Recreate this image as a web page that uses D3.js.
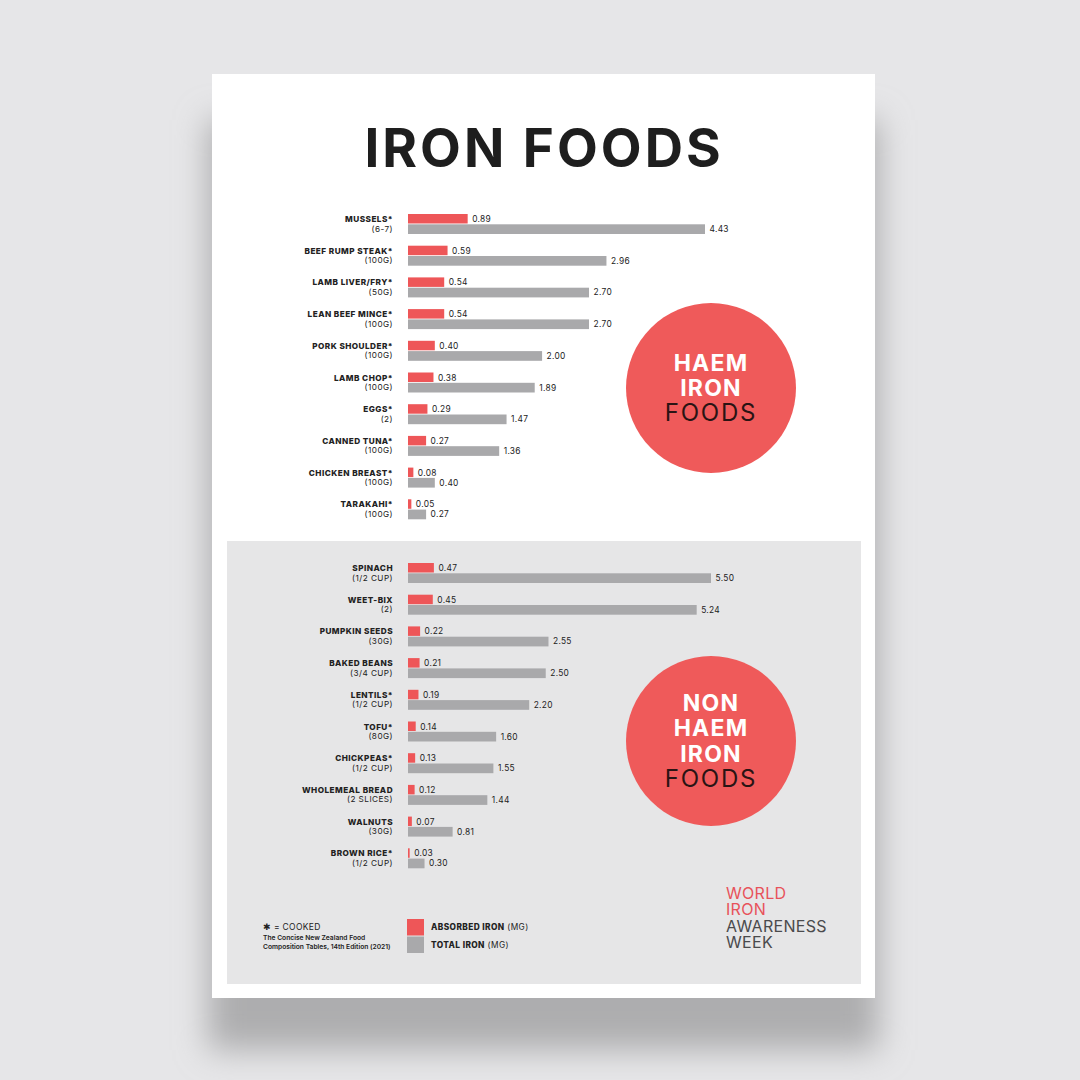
<!DOCTYPE html>
<html>
<head>
<meta charset="utf-8">
<script src="https://cdn.jsdelivr.net/npm/d3@7"></script>
<style>
    body { margin: 0; background: #e6e6e8; }
    text { font-family: Inter, "Open Sans", sans-serif; }
</style>
</head>
<body>
<div id="chart"></div>
<script>
// haem iron foods (top half)
var haemFoods = ["MUSSELS*", "BEEF RUMP STEAK*", "LAMB LIVER/FRY*", "LEAN BEEF MINCE*", "PORK SHOULDER*",
    "LAMB CHOP*", "EGGS*", "CANNED TUNA*", "CHICKEN BREAST*", "TARAKAHI*"];
var haemPortions = ["(6-7)", "(100G)", "(50G)", "(100G)", "(100G)", "(100G)", "(2)", "(100G)", "(100G)", "(100G)"];
var haemAbsorbed = [0.89, 0.59, 0.54, 0.54, 0.40, 0.38, 0.29, 0.27, 0.08, 0.05];
var haemTotal = [4.43, 2.96, 2.70, 2.70, 2.00, 1.89, 1.47, 1.36, 0.40, 0.27];

// non haem iron foods (bottom half)
var nonHaemFoods = ["SPINACH", "WEET-BIX", "PUMPKIN SEEDS", "BAKED BEANS", "LENTILS*", "TOFU*",
    "CHICKPEAS*", "WHOLEMEAL BREAD", "WALNUTS", "BROWN RICE*"];
var nonHaemPortions = ["(1/2 CUP)", "(2)", "(30G)", "(3/4 CUP)", "(1/2 CUP)", "(80G)", "(1/2 CUP)", "(2 SLICES)", "(30G)", "(1/2 CUP)"];
var nonHaemAbsorbed = [0.47, 0.45, 0.22, 0.21, 0.19, 0.14, 0.13, 0.12, 0.07, 0.03];
var nonHaemTotal = [5.50, 5.24, 2.55, 2.50, 2.20, 1.60, 1.55, 1.44, 0.81, 0.30];

var legendLabels = ["ABSORBED IRON", "TOTAL IRON"];
var legendUnit = " (MG)";

var RED = "#ee5658";
var GREY = "#a9a9ab";

var svg = d3.select("#chart").append("svg")
    .attr("width", 1080)
    .attr("height", 1080);

// page shadow
var defs = svg.append("defs");
defs.append("filter")
    .attr("id", "shadow")
    .attr("x", "-20%").attr("y", "-20%")
    .attr("width", "140%").attr("height", "140%")
    .append("feGaussianBlur")
    .attr("stdDeviation", 16);

svg.append("rect")
    .attr("width", 1080).attr("height", 1080)
    .attr("fill", "#e6e6e8");

svg.append("rect")
    .attr("x", 208).attr("y", 120)
    .attr("width", 671).attr("height", 930)
    .attr("fill", "#adadaf")
    .attr("filter", "url(#shadow)");

// page
svg.append("rect")
    .attr("x", 212).attr("y", 74)
    .attr("width", 663).attr("height", 924)
    .attr("fill", "#ffffff");

// grey panel for non haem
svg.append("rect")
    .attr("x", 227).attr("y", 541)
    .attr("width", 634).attr("height", 443)
    .attr("fill", "#e6e6e7");

svg.append("text")
    .attr("x", 544).attr("y", 167)
    .attr("text-anchor", "middle")
    .attr("font-size", 53)
    .attr("font-weight", 700)
    .attr("letter-spacing", 3)
    .attr("fill", "#1e1e1e")
    .text("IRON FOODS");

function drawSection(foods, portions, absorbed, total, top, barSpan) {
    var step = 31.7;
    var bandH = 20;
    var pad = 1 - bandH / step;
    var left = 408;

    var x = d3.scaleLinear()
        .domain([0, d3.max(total)])
        .range([0, barSpan]);

    var y = d3.scaleBand()
        .domain(foods)
        .range([top, top + foods.length * step - pad * step])
        .paddingInner(pad)
        .paddingOuter(0);

    var g = svg.append("g");

    var rows = g.selectAll(".row")
        .data(foods)
        .enter()
        .append("g")
        .attr("class", "row")
        .attr("transform", function (d) { return "translate(0," + y(d) + ")"; });

    rows.append("text")
        .attr("x", 393).attr("y", 8)
        .attr("text-anchor", "end")
        .attr("font-size", 8.2)
        .attr("font-weight", 800)
        .attr("letter-spacing", 0.45)
        .attr("fill", "#222")
        .text(function (d) { return d; });

    rows.append("text")
        .attr("x", 393).attr("y", 17.5)
        .attr("text-anchor", "end")
        .attr("font-size", 8.2)
        .attr("letter-spacing", 0.45)
        .attr("fill", "#222")
        .text(function (d, i) { return portions[i]; });

    rows.append("rect")
        .attr("x", left).attr("y", 0)
        .attr("width", function (d, i) { return x(absorbed[i]); })
        .attr("height", 9.5)
        .attr("fill", RED);

    rows.append("rect")
        .attr("x", left).attr("y", 10.3)
        .attr("width", function (d, i) { return x(total[i]); })
        .attr("height", 9.7)
        .attr("fill", GREY);

    rows.append("text")
        .attr("x", function (d, i) { return left + x(absorbed[i]) + 4.5; })
        .attr("y", 8)
        .attr("font-size", 8.4)
        .attr("letter-spacing", 0.3)
        .attr("fill", "#222")
        .text(function (d, i) { return absorbed[i].toFixed(2); });

    rows.append("text")
        .attr("x", function (d, i) { return left + x(total[i]) + 4.5; })
        .attr("y", 18)
        .attr("font-size", 8.4)
        .attr("letter-spacing", 0.3)
        .attr("fill", "#222")
        .text(function (d, i) { return total[i].toFixed(2); });
}

drawSection(haemFoods, haemPortions, haemAbsorbed, haemTotal, 214, 297);
drawSection(nonHaemFoods, nonHaemPortions, nonHaemAbsorbed, nonHaemTotal, 563, 303);

function badge(cx, cy, lines) {
    svg.append("circle")
        .attr("cx", cx).attr("cy", cy).attr("r", 85)
        .attr("fill", "#ef5a5a");
    var n = lines.length;
    lines.forEach(function (l, i) {
        svg.append("text")
            .attr("x", cx)
            .attr("y", cy + (i - (n - 1) / 2) * 25.3 + 8)
            .attr("text-anchor", "middle")
            .attr("font-size", l.bold ? 23 : 24)
            .attr("font-weight", l.bold ? 700 : 400)
            .attr("letter-spacing", l.bold ? 1.2 : 1.8)
            .attr("fill", l.bold ? "#ffffff" : "#2a1414")
            .text(l.t);
    });
}

badge(711, 388, [{ t: "HAEM", bold: true }, { t: "IRON", bold: true }, { t: "FOODS", bold: false }]);
badge(711, 741, [{ t: "NON", bold: true }, { t: "HAEM", bold: true }, { t: "IRON", bold: true }, { t: "FOODS", bold: false }]);

// notes
svg.append("text")
    .attr("x", 263).attr("y", 929.5)
    .attr("font-size", 8.5)
    .attr("letter-spacing", 0.3)
    .attr("fill", "#222")
    .text("\u2731 = COOKED");

svg.append("text")
    .attr("x", 263).attr("y", 939.5)
    .attr("font-size", 6.7)
    .attr("font-weight", 600)
    .attr("fill", "#222")
    .text("The Concise New Zealand Food");

svg.append("text")
    .attr("x", 263).attr("y", 949)
    .attr("font-size", 6.7)
    .attr("font-weight", 600)
    .attr("fill", "#222")
    .text("Composition Tables, 14th Edition (2021)");

// legend
var legend = svg.selectAll(".legend")
    .data(legendLabels)
    .enter()
    .append("g")
    .attr("class", "legend")
    .attr("transform", function (d, i) { return "translate(407," + (919 + i * 17.5) + ")"; });

legend.append("rect")
    .attr("width", 17).attr("height", 16.5)
    .attr("fill", function (d, i) { return i === 0 ? RED : GREY; });

var lt = legend.append("text")
    .attr("x", 24).attr("y", 11)
    .attr("font-size", 8.3)
    .attr("letter-spacing", 0.4)
    .attr("fill", "#222");
lt.append("tspan").attr("font-weight", 800).text(function (d) { return d; });
lt.append("tspan").text(legendUnit);

// logo, one text block with a line per word
var logo = [["WORLD", "#e8525a"], ["IRON", "#e8525a"], ["AWARENESS", "#4a4a4c"], ["WEEK", "#4a4a4c"]];
var logoText = svg.append("text")
    .attr("x", 726).attr("y", 898.5)
    .attr("font-size", 16)
    .attr("letter-spacing", 0.3);
logoText.selectAll("tspan")
    .data(logo)
    .enter()
    .append("tspan")
    .attr("x", 726)
    .attr("dy", function (d, i) { return i === 0 ? 0 : 16.6; })
    .attr("fill", function (d) { return d[1]; })
    .text(function (d) { return d[0]; });
</script>
</body>
</html>
